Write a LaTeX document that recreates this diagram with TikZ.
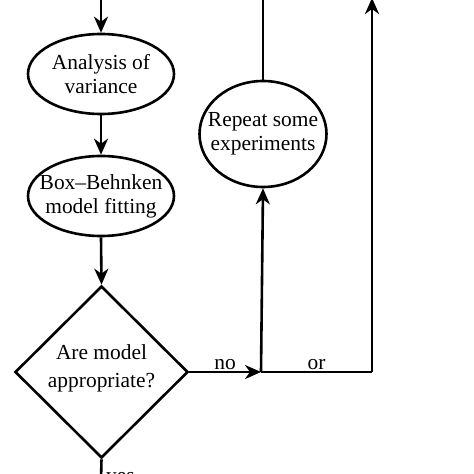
\documentclass[tikz,border=0pt]{standalone}
\usepackage{fontspec}
\setmainfont{Liberation Serif}
\usetikzlibrary{shapes.geometric,arrows.meta}
\begin{document}
\begin{tikzpicture}[x=1bp,y=-1bp,
  every node/.style={font=\fontsize{21.5}{24}\selectfont},
  oval/.style={draw,ellipse,line width=2.6bp,inner sep=0pt},
  txt/.style={align=center,inner sep=0pt},
  decision/.style={draw,diamond,line width=2.6bp,inner sep=0pt,minimum width=173bp,minimum height=172bp},
  conn/.style={line width=2.6bp},
  arr/.style={conn,-{Stealth[length=16bp,width=14bp,inset=5bp]}},
  lbl/.style={inner sep=1bp}]
\useasboundingbox (0,0) rectangle (474,474);
\clip (0,0) rectangle (474,474);
\node[oval,minimum width=146bp,minimum height=80bp] (e1) at (101,74) {};
\node[txt] (e1t) at (e1.center) {Analysis of\\variance};
\node[oval,minimum width=146bp,minimum height=80bp] (e2) at (101,196) {};
\node[txt] (e2t) at (e2.center) {Box--Behnken\\model fitting};
\node[decision] (d) at (101.5,372) {};
\node[txt] (dt) at (101.5,368) {Are model\\[4bp]appropriate?};
\node[oval,minimum width=127bp,minimum height=106bp] (e3) at (263,134) {};
\node[txt] (e3t) at (e3.center) {Repeat some\\experiments};
\coordinate (t1) at (101,-5);
\coordinate (j) at (261,372);
\coordinate (c) at (372,372);
\coordinate (t4) at (372,-2);
\coordinate (t3) at (263,-5);
\coordinate (b) at (101,480);
\draw[arr] (t1) -- (e1.north);
\draw[arr] (e1.south) -- (e2.north);
\draw[arr] (e2.south) -- (d.north);
\draw[arr] (d.east) -- node[lbl,above] {no} (j);
\draw[conn] (j) -- node[lbl,above] {or} (c);
\draw[arr] (c) -- (t4);
\draw[arr] (j) -- (e3.south);
\draw[conn] (e3.north) -- (t3);
\draw[conn] (d.south) -- (b);
\node[anchor=base west,inner sep=0pt] (yes) at (106,482) {yes};
\end{tikzpicture}
\end{document}
